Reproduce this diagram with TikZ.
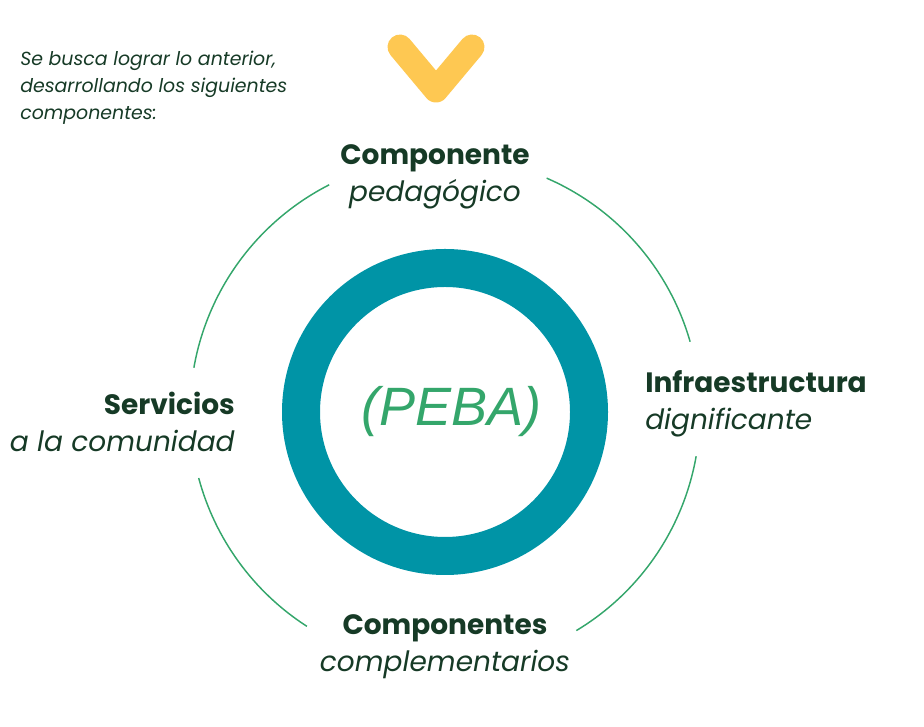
\documentclass[tikz,border=0pt]{standalone}
\usepackage{fontspec}
\setmainfont{Poppins}
\newfontfamily\pebafont{Liberation Sans}
\usepackage{xcolor}
\usepackage{tikz}
\definecolor{pebateal}{RGB}{0,148,166}
\definecolor{pebagreen}{RGB}{52,166,107}
\definecolor{pebadark}{RGB}{22,58,38}
\definecolor{pebayellow}{RGB}{254,200,82}
\usetikzlibrary{positioning,calc}

\begin{document}
\begin{tikzpicture}[
    x=0.75pt, y=0.75pt,
    ring/.style={circle, draw=pebateal, line width=28.5pt, minimum size=216pt, inner sep=0pt},
    arcline/.style={draw=pebagreen, line width=1.1pt},
    label/.style={text=pebadark, inner sep=0pt, font=\fontsize{21}{27.75}\selectfont},
    intro/.style={text=pebadark, inner sep=0pt, align=left, font=\fontsize{14.2}{20.25}\selectfont\itshape}
]
\useasboundingbox (0,0) rectangle (924,727);

% chevron
\draw[pebayellow, line width=18.75pt, line cap=round, line join=round]
    (400,680) -- (436,637) -- (472,680);

\node[intro, anchor=base west] (intro) at (20,607)
    {Se busca lograr lo anterior,\\desarrollando los siguientes\\componentes:};

% center ring
\node[ring] (ring) at (445,315) {};
\node[text=pebagreen, font=\fontsize{40.5}{40.5}\pebafont\itshape] (peba) at ([xshift=5]ring.center) {(PEBA)};

% outer arcs
\draw[arcline] ($(ring.center)+(66.5:255)$) arc (66.5:16:255);
\draw[arcline] ($(ring.center)+(-10:255)$) arc (-10:-59:255);
\draw[arcline] ($(ring.center)+(237.2:255)$) arc (237.2:195:255);
\draw[arcline] ($(ring.center)+(170:255)$) arc (170:117:255);

% labels
\node[label, align=center, anchor=base] (top) at (435,525)
    {\textbf{Componente}\\\textit{pedagógico}};
\node[label, align=left, anchor=base west] (right) at (645,297)
    {\textbf{Infraestructura}\\\textit{dignificante}};
\node[label, align=right, anchor=base east] (left) at (235,275)
    {\textbf{Servicios}\\\textit{a la comunidad}};
\node[label, align=center, anchor=base] (bottom) at (445,55)
    {\textbf{Componentes}\\\textit{complementarios}};

\end{tikzpicture}
\end{document}
